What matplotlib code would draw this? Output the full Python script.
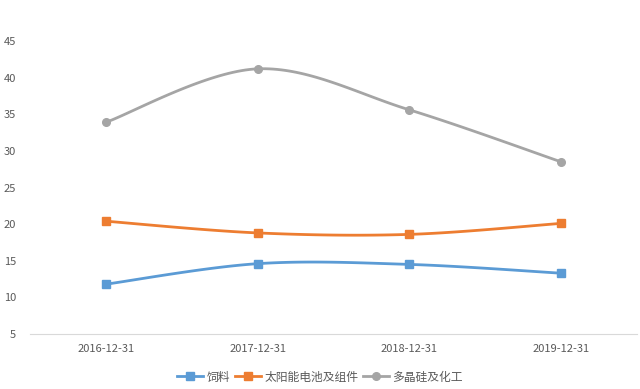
import numpy as np
import matplotlib
matplotlib.use("Agg")
import matplotlib.pyplot as plt
from matplotlib.lines import Line2D

plt.rcParams['font.family'] = ['Noto Sans CJK SC', 'DejaVu Sans']

dates = ['2016-12-31', '2017-12-31', '2018-12-31', '2019-12-31']
feed = [11.8, 14.6, 14.5, 13.3]
solar = [20.4, 18.8, 18.6, 20.1]
poly_si = [33.9, 41.2, 35.6, 28.5]
series_names = ['饲料', '太阳能电池及组件', '多晶硅及化工']
y_ticks = [5, 10, 15, 20, 25, 30, 35, 40, 45]


def smooth(xs, ys, n=40):
    # Excel-style smoothed line: cubic bezier with control points from neighbours
    xs = np.asarray(xs, float)
    ys = np.asarray(ys, float)
    px, py = [], []
    for i in range(len(xs) - 1):
        i0 = max(i - 1, 0)
        i3 = min(i + 2, len(xs) - 1)
        p0 = np.array([xs[i], ys[i]])
        p3 = np.array([xs[i + 1], ys[i + 1]])
        c1 = p0 + (p3 - np.array([xs[i0], ys[i0]])) / 6
        c2 = p3 - (np.array([xs[i3], ys[i3]]) - p0) / 6
        t = np.linspace(0, 1, n)[:, None]
        pts = (1 - t) ** 3 * p0 + 3 * (1 - t) ** 2 * t * c1 + 3 * (1 - t) * t ** 2 * c2 + t ** 3 * p3
        px.extend(pts[:, 0])
        py.extend(pts[:, 1])
    return px, py


fig = plt.figure(figsize=(6.4, 3.89), dpi=100)
ax = fig.add_axes([30 / 640, 1 - 334 / 389, 607 / 640, 293 / 389])

x = np.arange(len(dates))
styles = [
    (feed, '#5B9BD5', 's'),
    (solar, '#ED7D31', 's'),
    (poly_si, '#A5A5A5', 'o'),
]
handles = []
for (vals, color, mk), name in zip(styles, series_names):
    sx, sy = smooth(x, vals)
    ax.plot(sx, sy, color=color, lw=2.0, solid_capstyle='round', zorder=3)
    ax.plot(x, vals, ls='none', marker=mk, ms=5.5, color=color, zorder=4)
    handles.append(Line2D([], [], color=color, lw=2.0, marker=mk, ms=5.5, label=name))

ax.set_xlim(-0.5, 3.5)
ax.set_ylim(5, 45)
ax.set_yticks(y_ticks)
ax.set_xticks(x)
ax.set_xticklabels(dates)
for s in ['top', 'right', 'left']:
    ax.spines[s].set_visible(False)
ax.spines['bottom'].set_color('#D9D9D9')
ax.tick_params(axis='both', length=0, labelsize=8, labelcolor='#595959')
ax.tick_params(axis='y', pad=10)
ax.tick_params(axis='x', pad=7)

fig.legend(handles=handles, loc='center', bbox_to_anchor=(0.5, 1 - 377 / 389),
           ncol=3, frameon=False, fontsize=8.5, handlelength=2.2, columnspacing=0.4,
           handletextpad=0.3, labelcolor='#595959')

fig.savefig('out.png', dpi=100)
